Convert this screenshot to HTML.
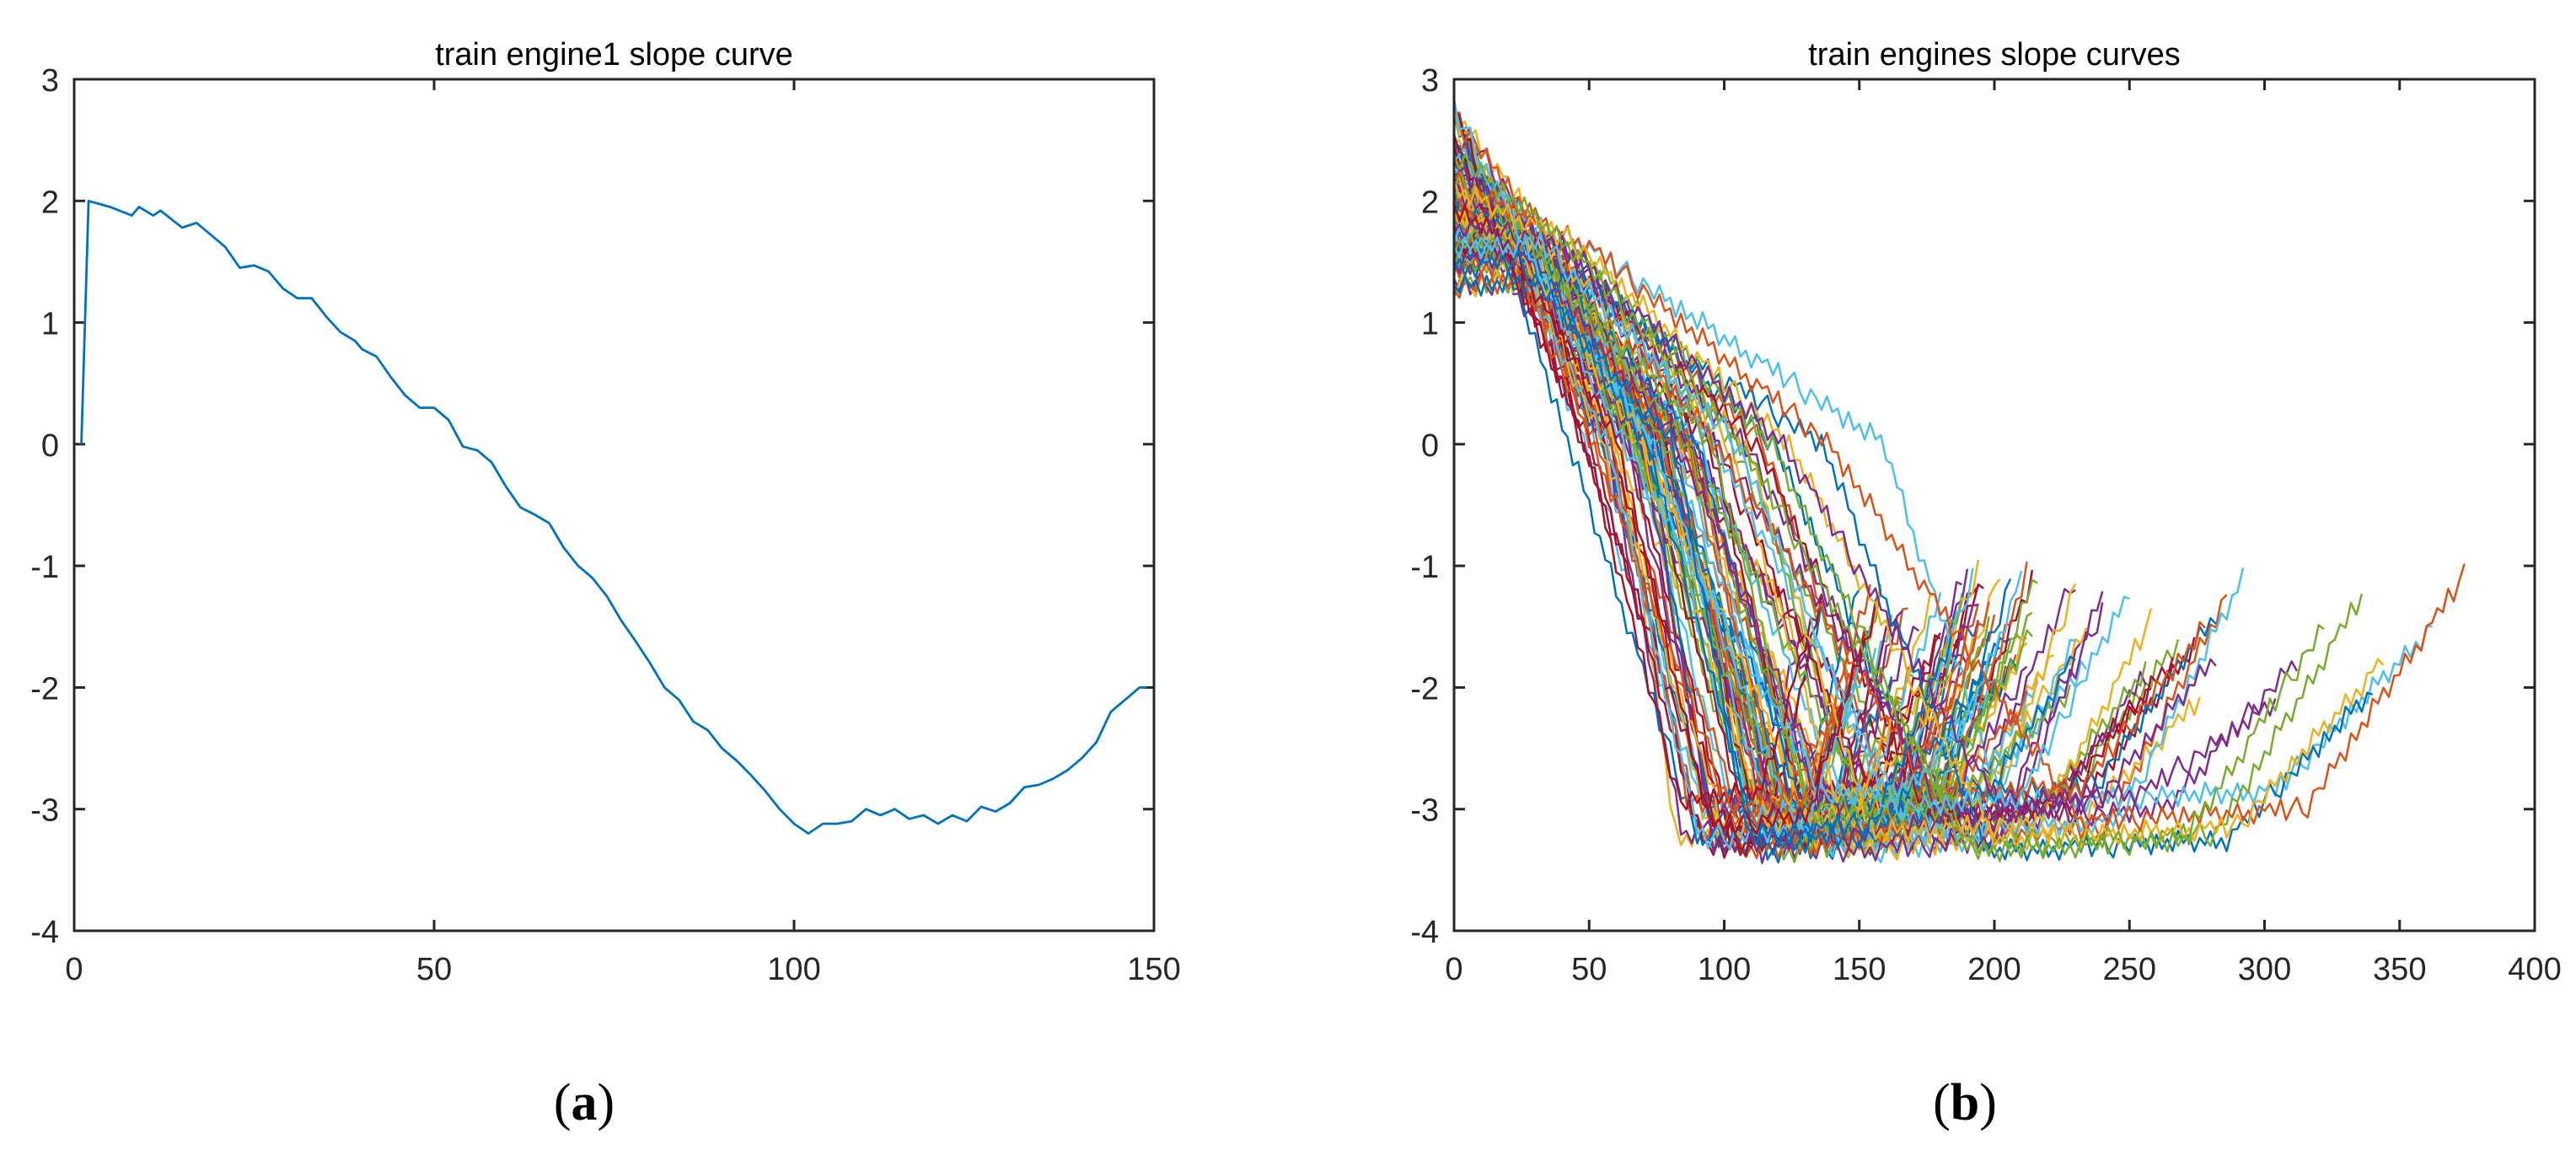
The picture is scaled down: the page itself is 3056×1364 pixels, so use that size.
<!DOCTYPE html>
<html><head><meta charset="utf-8">
<style>
html,body{margin:0;padding:0;background:#fff;}
svg{display:block;}
text{font-family:"Liberation Sans",Arial,sans-serif;fill:#262626;}
</style></head>
<body>
<svg id="fig" width="3056" height="1364" viewBox="0 0 3056 1364" xmlns="http://www.w3.org/2000/svg">
<g id="pa"></g>
<g id="pb"></g>
<text x="693" y="1328" font-size="62" text-anchor="middle" style="font-family:'Liberation Serif',serif;fill:#000">(<tspan font-weight="bold">a</tspan>)</text>
<text x="2331" y="1328" font-size="62" text-anchor="middle" style="font-family:'Liberation Serif',serif;fill:#000">(<tspan font-weight="bold">b</tspan>)</text>
</svg>
<script>
// Panel (a) data: engine 1 slope curve
const engine1X = [1,2,5,8,9,11,12,15,17,19,21,23,25,27,29,31,33,35,37,39,40,42,44,46,48,50,52,54,56,58,60,62,64,66,68,70,72,74,76,78,80,82,84,86,88,90,92,94,96,98,100,102,104,106,108,110,112,114,116,118,120,122,124,126,128,130,132,134,136,138,140,142,144,146,148,149];
const engine1Y = [0,2.0,1.95,1.88,1.95,1.88,1.92,1.78,1.82,1.72,1.62,1.45,1.47,1.42,1.28,1.2,1.2,1.05,0.92,0.85,0.78,0.72,0.55,0.4,0.3,0.3,0.2,-0.02,-0.05,-0.15,-0.35,-0.52,-0.58,-0.65,-0.85,-1.0,-1.1,-1.25,-1.45,-1.62,-1.8,-2.0,-2.1,-2.28,-2.35,-2.5,-2.6,-2.72,-2.85,-3.0,-3.12,-3.2,-3.12,-3.12,-3.1,-3.0,-3.05,-3.0,-3.08,-3.05,-3.12,-3.05,-3.1,-2.98,-3.02,-2.95,-2.82,-2.8,-2.75,-2.68,-2.58,-2.45,-2.2,-2.1,-2.0,-2.0];
const xTicksA = [0,50,100,150];
const xTicksB = [0,50,100,150,200,250,300,350,400];
const yTicks = [-4,-3,-2,-1,0,1,2,3];
// Panel (b) data: per-engine lifetimes, start values, end values, minima
const lifetimes = [192,287,179,189,269,188,259,150,201,222,240,170,163,180,207,209,276,195,158,234,195,202,168,147,230,199,156,165,163,194,234,191,200,195,181,158,170,194,128,188,216,196,207,192,158,256,214,231,215,198,213,213,195,257,193,275,137,147,231,172,185,180,174,283,153,202,313,199,362,137,208,213,213,166,229,210,154,231,199,185,240,214,293,267,188,278,178,213,217,154,135,341,155,258,283,336,202,156,185,375,345,305,322,250];
const startVals = [2.1,1.8,2.4,1.6,2.0,2.7,1.9,1.5,2.2,1.7,2.5,1.3,2.0,1.85,2.3,1.65,2.75,1.95,1.45,2.15];
const endVals = [-1.5,-1.2,-1.8,-1.0,-1.6,-1.3,-2.0,-1.1,-1.45,-1.7,-1.25,-1.9,-1.35,-1.55,-1.05,-1.75,-2.1];
const minVals = [-3.1,-3.25,-2.95,-3.35,-3.0,-3.2,-3.05,-3.3,-2.9,-3.15,-3.22];
const zeroFracs = [0.36,0.40,0.33,0.42,0.38,0.35,0.31,0.39,0.44,0.37];
const minFracs = [0.62,0.58,0.66,0.6,0.64,0.56,0.68,0.61,0.59];
const wiggle = [0.6,-0.4,0.9,-0.8,0.2,1.0,-0.3,-1.0,0.5,0.1,-0.6,0.8,-0.2,0.4,-0.9,0.7,-0.5,0.3,-0.7,0.95,-0.1,0.55,-0.85,0.25,-0.35,0.75,-0.65,0.15,-0.95,0.45,0.05];
const colors = ['#0072BD','#D95319','#EDB120','#7E2F8E','#77AC30','#4DBEEE','#A2142F'];

const NS='http://www.w3.org/2000/svg';
const plotTop=94, plotBot=1104, yMin=-4, yMax=3;
function yS(v){return plotTop+(yMax-v)/(yMax-yMin)*(plotBot-plotTop);}
function mk(tag,attrs,parent){const e=document.createElementNS(NS,tag);for(const k in attrs)e.setAttribute(k,attrs[k]);parent.appendChild(e);return e;}

function axes(g,x0,x1,xmax,xt,title,nameP){
  const xS=v=>x0+v/xmax*(x1-x0);
  const tk=13;
  xt.forEach(t=>{
    const X=xS(t);
    const l1=mk('line',{x1:X,x2:X,y1:plotBot,y2:plotBot-tk,stroke:'#262626','stroke-width':3},g);
    
    
    const l2=mk('line',{x1:X,x2:X,y1:plotTop,y2:plotTop+tk,stroke:'#262626','stroke-width':3},g);
    
    
    const tx=mk('text',{x:X,y:1162,'font-size':38,'text-anchor':'middle'},g);
    tx.textContent=t;
    
    
  });
  yTicks.forEach(t=>{
    const Y=yS(t);
    const l1=mk('line',{x1:x0,x2:x0+tk,y1:Y,y2:Y,stroke:'#262626','stroke-width':3},g);
    
    
    const l2=mk('line',{x1:x1,x2:x1-tk,y1:Y,y2:Y,stroke:'#262626','stroke-width':3},g);
    
    
    const tx=mk('text',{x:x0-18,y:Y+14,'font-size':38,'text-anchor':'end'},g);
    tx.textContent=t;
    
    
  });
  const r=mk('rect',{x:x0,y:plotTop,width:x1-x0,height:plotBot-plotTop,fill:'none',stroke:'#262626','stroke-width':3},g);
  
  
  const ti=mk('text',{x:(x0+x1)/2,y:77,'font-size':38,'text-anchor':'middle',style:'fill:#000'},g);
  ti.textContent=title;
  
  
  return xS;
}

const ga=document.getElementById('pa');
const xSa=axes(ga,88,1369,150,xTicksA,'train engine1 slope curve','panel-a');
const ptsA=engine1X.map((x,i)=>xSa(x).toFixed(1)+','+yS(engine1Y[i]).toFixed(1)).join(' ');
const pl=mk('polyline',{points:ptsA,fill:'none',stroke:'#0072BD','stroke-width':2.8,'stroke-linejoin':'round'},ga);



const gb=document.getElementById('pb');
const xSb=axes(gb,1725,3007,400,xTicksB,'train engines slope curves','panel-b');
const lineG=mk('g',{},gb);


lifetimes.forEach((L,i)=>{
  const s=startVals[i%startVals.length];
  const e=endVals[i%endVals.length];
  const mv=minVals[i%minVals.length];
  const zf=zeroFracs[i%zeroFracs.length];
  const mf=minFracs[i%minFracs.length];
  const kx=[0,0.13*L,zf*L,mf*L,0.84*L,L];
  const ky=[s,Math.min(s,1.6)+0.05,0,mv,mv+0.1,e];
  const pts=[];
  for(let x=0;x<=L;x+=2){
    let j=0;while(j<kx.length-2&&x>kx[j+1])j++;
    const f=(x-kx[j])/(kx[j+1]-kx[j]);
    let y=ky[j]+f*(ky[j+1]-ky[j]);
    y+=0.1*wiggle[(x/2+i*11)%wiggle.length];
    pts.push(xSb(x).toFixed(1)+','+yS(y).toFixed(1));
  }
  const p=mk('polyline',{points:pts.join(' '),fill:'none',stroke:colors[i%colors.length],'stroke-width':2.5,'stroke-linejoin':'round'},lineG);
  
  
});
const rb=mk('rect',{x:1725,y:plotTop,width:1282,height:plotBot-plotTop,fill:'none',stroke:'#262626','stroke-width':3},gb);


</script>
</body></html>
